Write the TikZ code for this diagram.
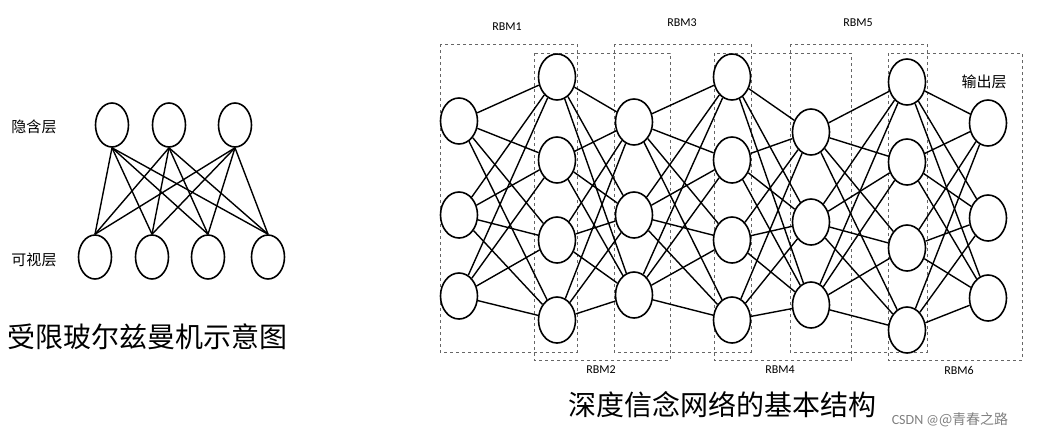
\documentclass[tikz,border=0pt]{standalone}
\usepackage{fontspec}
\setsansfont{Carlito}
\newfontfamily\cjk{Noto Sans CJK SC}
\usetikzlibrary{shapes.geometric}
\begin{document}
\begin{tikzpicture}[x=1pt,y=-1pt,
  neuron/.style={ellipse,draw,line width=1.6pt,minimum width=37pt,minimum height=46pt,inner sep=0pt},
  sneuron/.style={ellipse,draw,line width=1.6pt,minimum width=33pt,minimum height=44pt,inner sep=0pt},
  link/.style={line width=1.4pt},
  rbm/.style={draw=gray!80!black,dashed,line width=0.7pt},
  rbmlabel/.style={font=\sffamily\fontsize{12}{14}\selectfont},
  cjklabel/.style={font=\cjk\fontsize{15}{17}\selectfont}]
\useasboundingbox (0,0) rectangle (1044,437);
% left RBM
\foreach \x [count=\i] in {112,169,235} \node[sneuron] (h\i) at (\x,125) {};
\foreach \x [count=\i] in {95,152,208,268} \node[sneuron] (v\i) at (\x,257) {};
\foreach \i in {1,2,3} \foreach \j in {1,2,3,4} \draw[link] (h\i.south) -- (v\j.north);
\node[cjklabel] (lh) at (34,127) {隐含层};
\node[cjklabel] (lv) at (34,260) {可视层};
\node[font=\cjk\fontsize{28}{32}\selectfont] (cap1) at (148,337) {受限玻尔兹曼机示意图};
% dashed boxes
\draw[rbm] (440,44) rectangle (577,352);
\draw[rbm] (534,53) rectangle (670,360);
\draw[rbm] (614,44) rectangle (751,352);
\draw[rbm] (714,53) rectangle (851,360);
\draw[rbm] (790,44) rectangle (927,352);
\draw[rbm] (888,53) rectangle (1022,360);
\node[rbmlabel] (r1) at (507,27) {RBM1};
\node[rbmlabel] (r3) at (682,23) {RBM3};
\node[rbmlabel] (r5) at (858,23) {RBM5};
\node[rbmlabel] (r2) at (601,370) {RBM2};
\node[rbmlabel] (r4) at (780,370) {RBM4};
\node[rbmlabel] (r6) at (959,370) {RBM6};
% layers
\foreach \y [count=\i] in {121,215,296} \node[neuron,fill=white] (a\i) at (459,\y) {};
\foreach \y [count=\i] in {77,160,240,320} \node[neuron,fill=white] (b\i) at (557,\y) {};
\foreach \y [count=\i] in {122,215,295} \node[neuron,fill=white] (c\i) at (634,\y) {};
\foreach \y [count=\i] in {77,160,240,320} \node[neuron,fill=white] (d\i) at (732,\y) {};
\foreach \y [count=\i] in {132,222,305} \node[neuron,fill=white] (e\i) at (811,\y) {};
\foreach \y [count=\i] in {82,162,248,330} \node[neuron,fill=white] (f\i) at (907,\y) {};
\foreach \y [count=\i] in {123,218,298} \node[neuron,fill=white] (g\i) at (988,\y) {};
\foreach \i in {1,2,3} \foreach \j in {1,2,3,4} {
  \draw[link] (a\i) -- (b\j);
  \draw[link] (c\i) -- (b\j);
  \draw[link] (c\i) -- (d\j);
  \draw[link] (e\i) -- (d\j);
  \draw[link] (e\i) -- (f\j);
  \draw[link] (g\i) -- (f\j);
}
\node[cjklabel] (out) at (984,82) {输出层};
\node[font=\cjk\fontsize{28}{32}\selectfont] (cap2) at (722,405) {深度信念网络的基本结构};
\node[font=\sffamily\fontsize{14}{16}\selectfont,text=gray] (csdn) at (950,420) {CSDN @\cjk{@青春之路}};
\end{tikzpicture}
\end{document}
